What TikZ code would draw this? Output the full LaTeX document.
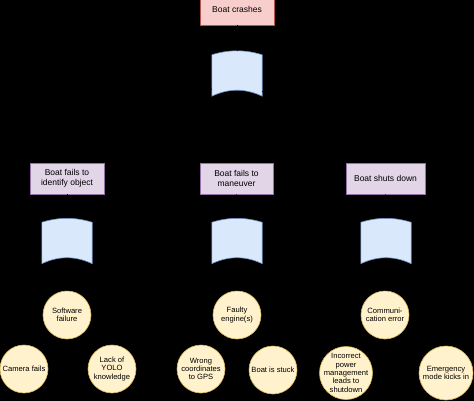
\documentclass[tikz,border=0pt]{standalone}
\usepackage{fontspec}
\setmainfont{Liberation Sans}
\usetikzlibrary{calc}
\definecolor{crashfill}{HTML}{F8CECC}
\definecolor{crashline}{HTML}{B85450}
\definecolor{eventfill}{HTML}{E1D5E7}
\definecolor{eventline}{HTML}{9673A6}
\definecolor{gatefill}{HTML}{DAE8FC}
\definecolor{gateline}{HTML}{6C8EBF}
\definecolor{causefill}{HTML}{FFF2CC}
\definecolor{causeline}{HTML}{D6B656}
\tikzset{
  topbox/.style={draw=crashline,fill=crashfill,minimum width=74pt,minimum height=31pt,inner sep=1pt,align=center,font=\fontsize{8.5}{9.6}\selectfont},
  eventbox/.style={draw=eventline,fill=eventfill,minimum width=74pt,minimum height=31pt,inner sep=1pt,align=center,font=\fontsize{8.5}{9.6}\selectfont},
  gatebox/.style={minimum width=50pt,minimum height=45pt,inner sep=0pt},
  gateshape/.style={draw=gateline,fill=gatefill,line width=0.6pt},
  cause/.style={circle,draw=causeline,fill=causefill,minimum size=48pt,inner sep=0pt,line width=0.6pt},
  causetext/.style={align=center,inner sep=0pt,font=\fontsize{7.6}{8.4}\selectfont},
  link/.style={draw=black,line width=0.6pt}
}
\newcommand{\orgate}[2]{%
  \node[gatebox] (#1) at (#2) {};
  \path[gateshape] ($(#1.north west)+(0,4)$) .. controls ($(#1.north west)+(17,-1.3)$) and ($(#1.north east)+(-17,-1.3)$) .. ($(#1.north east)+(0,4)$)
    -- (#1.south east) .. controls ($(#1.south east)+(-17,-8)$) and ($(#1.south west)+(17,-8)$) .. (#1.south west) -- cycle;
}
\begin{document}
\begin{tikzpicture}[x=1pt,y=-1pt]
  \useasboundingbox (0,0) rectangle (474,401);
  \fill[black] (0,0) rectangle (474,401);
  \clip (0,0) rectangle (474,401);
  % top event and its gate
  \node[topbox] (crash) at (237,9.5) {Boat crashes};
  \orgate{topgate}{237,73.5}
  % intermediate events
  \node[eventbox] (identify) at (67,178.5) {Boat fails to\\identify object};
  \node[eventbox,minimum width=73pt] (maneuver) at (236.5,178.5) {Boat fails to\\maneuver};
  \node[eventbox,minimum width=79pt] (shutdown) at (385.5,178.5) {Boat shuts down};
  \orgate{gateL}{67,241}
  \orgate{gateM}{237,241}
  \orgate{gateR}{386,241}
  % basic causes
  \node[cause,label={[causetext]center:Software\\failure}] (software) at (67,315) {};
  \node[cause,label={[causetext]center:Faulty\\engine(s)}] (engine) at (237,315) {};
  \node[cause,label={[causetext]center:Communi-\\cation error}] (comm) at (385,315) {};
  \node[cause,label={[causetext]center:Camera fails}] (camera) at (24,369) {};
  \node[cause,label={[causetext]center:Lack of\\YOLO\\knowledge}] (yolo) at (112,369) {};
  \node[cause,label={[causetext]center:Wrong\\coordinates\\to GPS}] (gps) at (201,369) {};
  \node[cause,label={[causetext]center:Boat is stuck}] (stuck) at (273,370) {};
  \node[cause,minimum size=53pt,label={[causetext]center:Incorrect\\power\\management\\leads to\\shutdown}] (power) at (346,373) {};
  \node[cause,minimum size=54pt,label={[causetext]center:Emergency\\mode kicks in}] (emergency) at (446,373) {};
  % connectors
  \path[link] (crash) -- (topgate);
  \path[link] (topgate) -- (identify);
  \path[link] (topgate) -- (maneuver);
  \path[link] (topgate) -- (shutdown);
  \path[link] (identify) -- (gateL);
  \path[link] (maneuver) -- (gateM);
  \path[link] (shutdown) -- (gateR);
  \path[link] (gateL) -- (software);
  \path[link] (gateM) -- (engine);
  \path[link] (gateR) -- (comm);
  \path[link] (software) -- (camera);
  \path[link] (software) -- (yolo);
  \path[link] (engine) -- (gps);
  \path[link] (engine) -- (stuck);
  \path[link] (comm) -- (power);
  \path[link] (comm) -- (emergency);
\end{tikzpicture}
\end{document}
